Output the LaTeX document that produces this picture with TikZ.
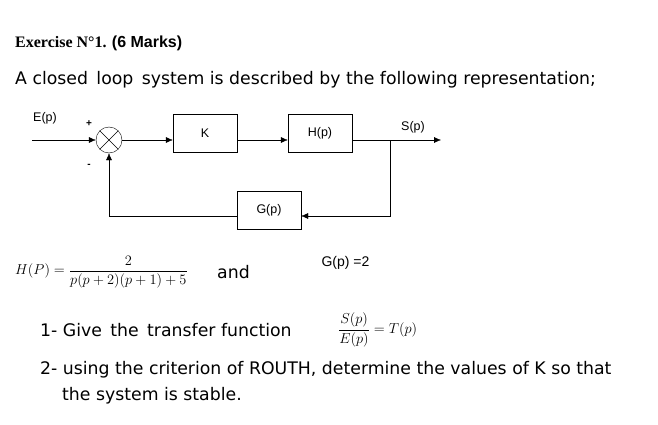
\documentclass[tikz,border=0pt]{standalone}
\usepackage{amsmath}
\usepackage{fontspec}
\setmainfont{Liberation Serif}
\setsansfont{DejaVu Sans}
\newfontfamily\ar{Liberation Sans}
\usetikzlibrary{arrows.meta}
\begin{document}
\begin{tikzpicture}[x=1pt,y=-1pt,
  blk/.style={draw,minimum width=64pt,minimum height=38pt,font=\ar\fontsize{12.5}{14}\selectfont},
  lab/.style={font=\ar\fontsize{12.5}{14}\selectfont},
  txt/.style={anchor=west,inner sep=0pt,font=\sffamily\fontsize{17.3}{20}\selectfont},
  arr/.style={-{Latex[length=7pt,width=6pt]}}]
\useasboundingbox (0,0) rectangle (658,425);
\node[anchor=west,inner sep=0pt] (t0) at (15,43) {\fontsize{16}{18}\selectfont\bfseries Exercise N°1. {\ar(6 Marks)}};
\node[txt] (t1) at (15,80) {A closed\, loop\, system is described by the following representation;};
% diagram
\node[draw,circle,minimum size=26pt,inner sep=0pt] (s) at (109,140) {};
\draw (s.north west)--(s.south east) (s.north east)--(s.south west);
\coordinate (in) at (32,140);
\node[blk] (k) at (205,133) {K};
\node[blk] (h) at (320,133) {H(p)};
\node[blk] (g) at (269,210) {G(p)};
\coordinate (br) at (390,140);
\coordinate (out) at (441,140);
\draw[arr] (in)--(s);
\draw[arr] (s)--(k.west|-s);
\draw[arr] (k.east|-s)--(h.west|-s);
\draw[arr] (h.east|-s)--(out);
\draw[arr] (br)|-(g.east|-0,216);
\draw[arr] (g.west|-0,216)-|(s.south);
\node[lab] (e) at (45,118) {E(p)};
\node[lab] (sp) at (413,127) {S(p)};
\node[font=\ar\bfseries\fontsize{10}{11}\selectfont] (pl) at (89,124) {+};
\node[font=\ar\bfseries\fontsize{10}{11}\selectfont] (mi) at (89,166) {-};
% formulas
\node[anchor=west,inner sep=0pt] (hf) at (15,272) {\fontsize{15.5}{18}\selectfont $H(P)=\dfrac{2}{p(p+2)(p+1)+5}$};
\node[txt] (and) at (217,272) {and};
\node[lab,anchor=west,font=\ar\fontsize{14}{16}\selectfont] (gp) at (318,263) {G(p) =2};
\node[txt] (q1) at (40,330) {1- Give\, the\, transfer function};
\node[anchor=west,inner sep=0pt] (tf) at (338,330) {\fontsize{15}{17}\selectfont $\dfrac{S(p)}{E(p)}=T(p)$};
\node[txt] (q2) at (40,370) {2- using the criterion of ROUTH, determine the values of K so that};
\node[txt] (q3) at (62,396) {the system is stable.};
\end{tikzpicture}
\end{document}
